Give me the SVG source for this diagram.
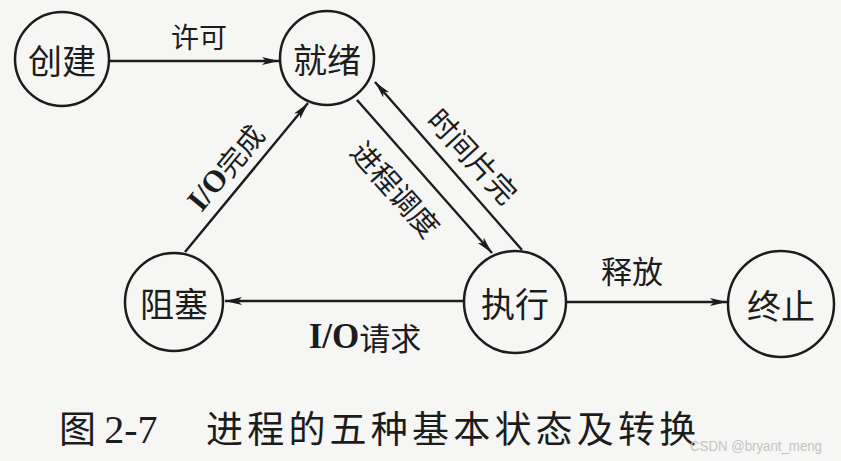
<svg xmlns="http://www.w3.org/2000/svg" width="841" height="461" viewBox="0 0 841 461">
<style>
.node{fill:none;stroke:#1c1c1c;stroke-width:2.5}
.edge{stroke:#1c1c1c;stroke-width:2.4;fill:none;marker-end:url(#ah)}
.lbl{font-family:"Noto Sans CJK SC","Noto Sans",sans-serif;fill:#1c1c1c;text-anchor:middle;dominant-baseline:central}
.io{font-family:"Liberation Serif",serif;font-weight:bold}
.cap{font-family:"Noto Sans CJK SC","Noto Sans",sans-serif;fill:#1c1c1c;font-size:37px}
</style>
<defs>
<marker id="ah" markerUnits="userSpaceOnUse" markerWidth="18" markerHeight="10" refX="17" refY="4" orient="auto">
<path d="M0,0 L17,4 L0,8 L4,4 Z" fill="#1c1c1c"/>
</marker>
</defs>
<rect width="841" height="461" fill="#f6f6f4"/>
<g id="edges">
<line class="edge" x1="110" y1="61" x2="279" y2="61"/>
<line class="edge" x1="185" y1="252" x2="308" y2="103"/>
<line class="edge" x1="357" y1="100" x2="492" y2="253"/>
<line class="edge" x1="522" y1="250" x2="375" y2="82"/>
<line class="edge" x1="464" y1="301" x2="225" y2="301"/>
<line class="edge" x1="567" y1="302" x2="727" y2="302"/>
<text class="lbl" x="199" y="36" font-size="28">许可</text>
<text class="lbl" transform="translate(225,167) rotate(-50.5)" font-size="28"><tspan class="io" font-size="31">I/O</tspan>完成</text>
<text class="lbl" transform="translate(397,188) rotate(48.5)" font-size="29">进程调度</text>
<text class="lbl" transform="translate(474,155) rotate(47.5)" font-size="29">时间片完</text>
<text class="lbl" x="365" y="336" font-size="31"><tspan class="io" font-size="35">I/O</tspan>请求</text>
<text class="lbl" x="632" y="269" font-size="31">释放</text>
</g>
<g id="n-create"><circle class="node" cx="62" cy="59" r="47"/><text class="lbl" x="62" y="59" font-size="34">创建</text></g>
<g id="n-ready"><circle class="node" cx="327" cy="58" r="47"/><text class="lbl" x="327" y="58" font-size="34">就绪</text></g>
<g id="n-blocked"><circle class="node" cx="174" cy="302" r="49"/><text class="lbl" x="174" y="302" font-size="34">阻塞</text></g>
<g id="n-running"><circle class="node" cx="515" cy="302" r="51"/><text class="lbl" x="515" y="302" font-size="34">执行</text></g>
<g id="n-exit"><circle class="node" cx="781" cy="304" r="53"/><text class="lbl" x="781" y="304" font-size="34">终止</text></g>
<g id="caption">
<text class="cap" x="59" y="443">图 <tspan font-family="'Liberation Serif',serif" font-size="40">2-7</tspan></text>
<text class="cap" x="206" y="443" letter-spacing="4.2">进程的五种基本状态及转换</text>
<text x="690" y="451" font-family="'Liberation Sans',sans-serif" font-size="14" fill="#c4c4c4" textLength="132" lengthAdjust="spacingAndGlyphs">CSDN @bryant_meng</text>
</g>
</svg>
